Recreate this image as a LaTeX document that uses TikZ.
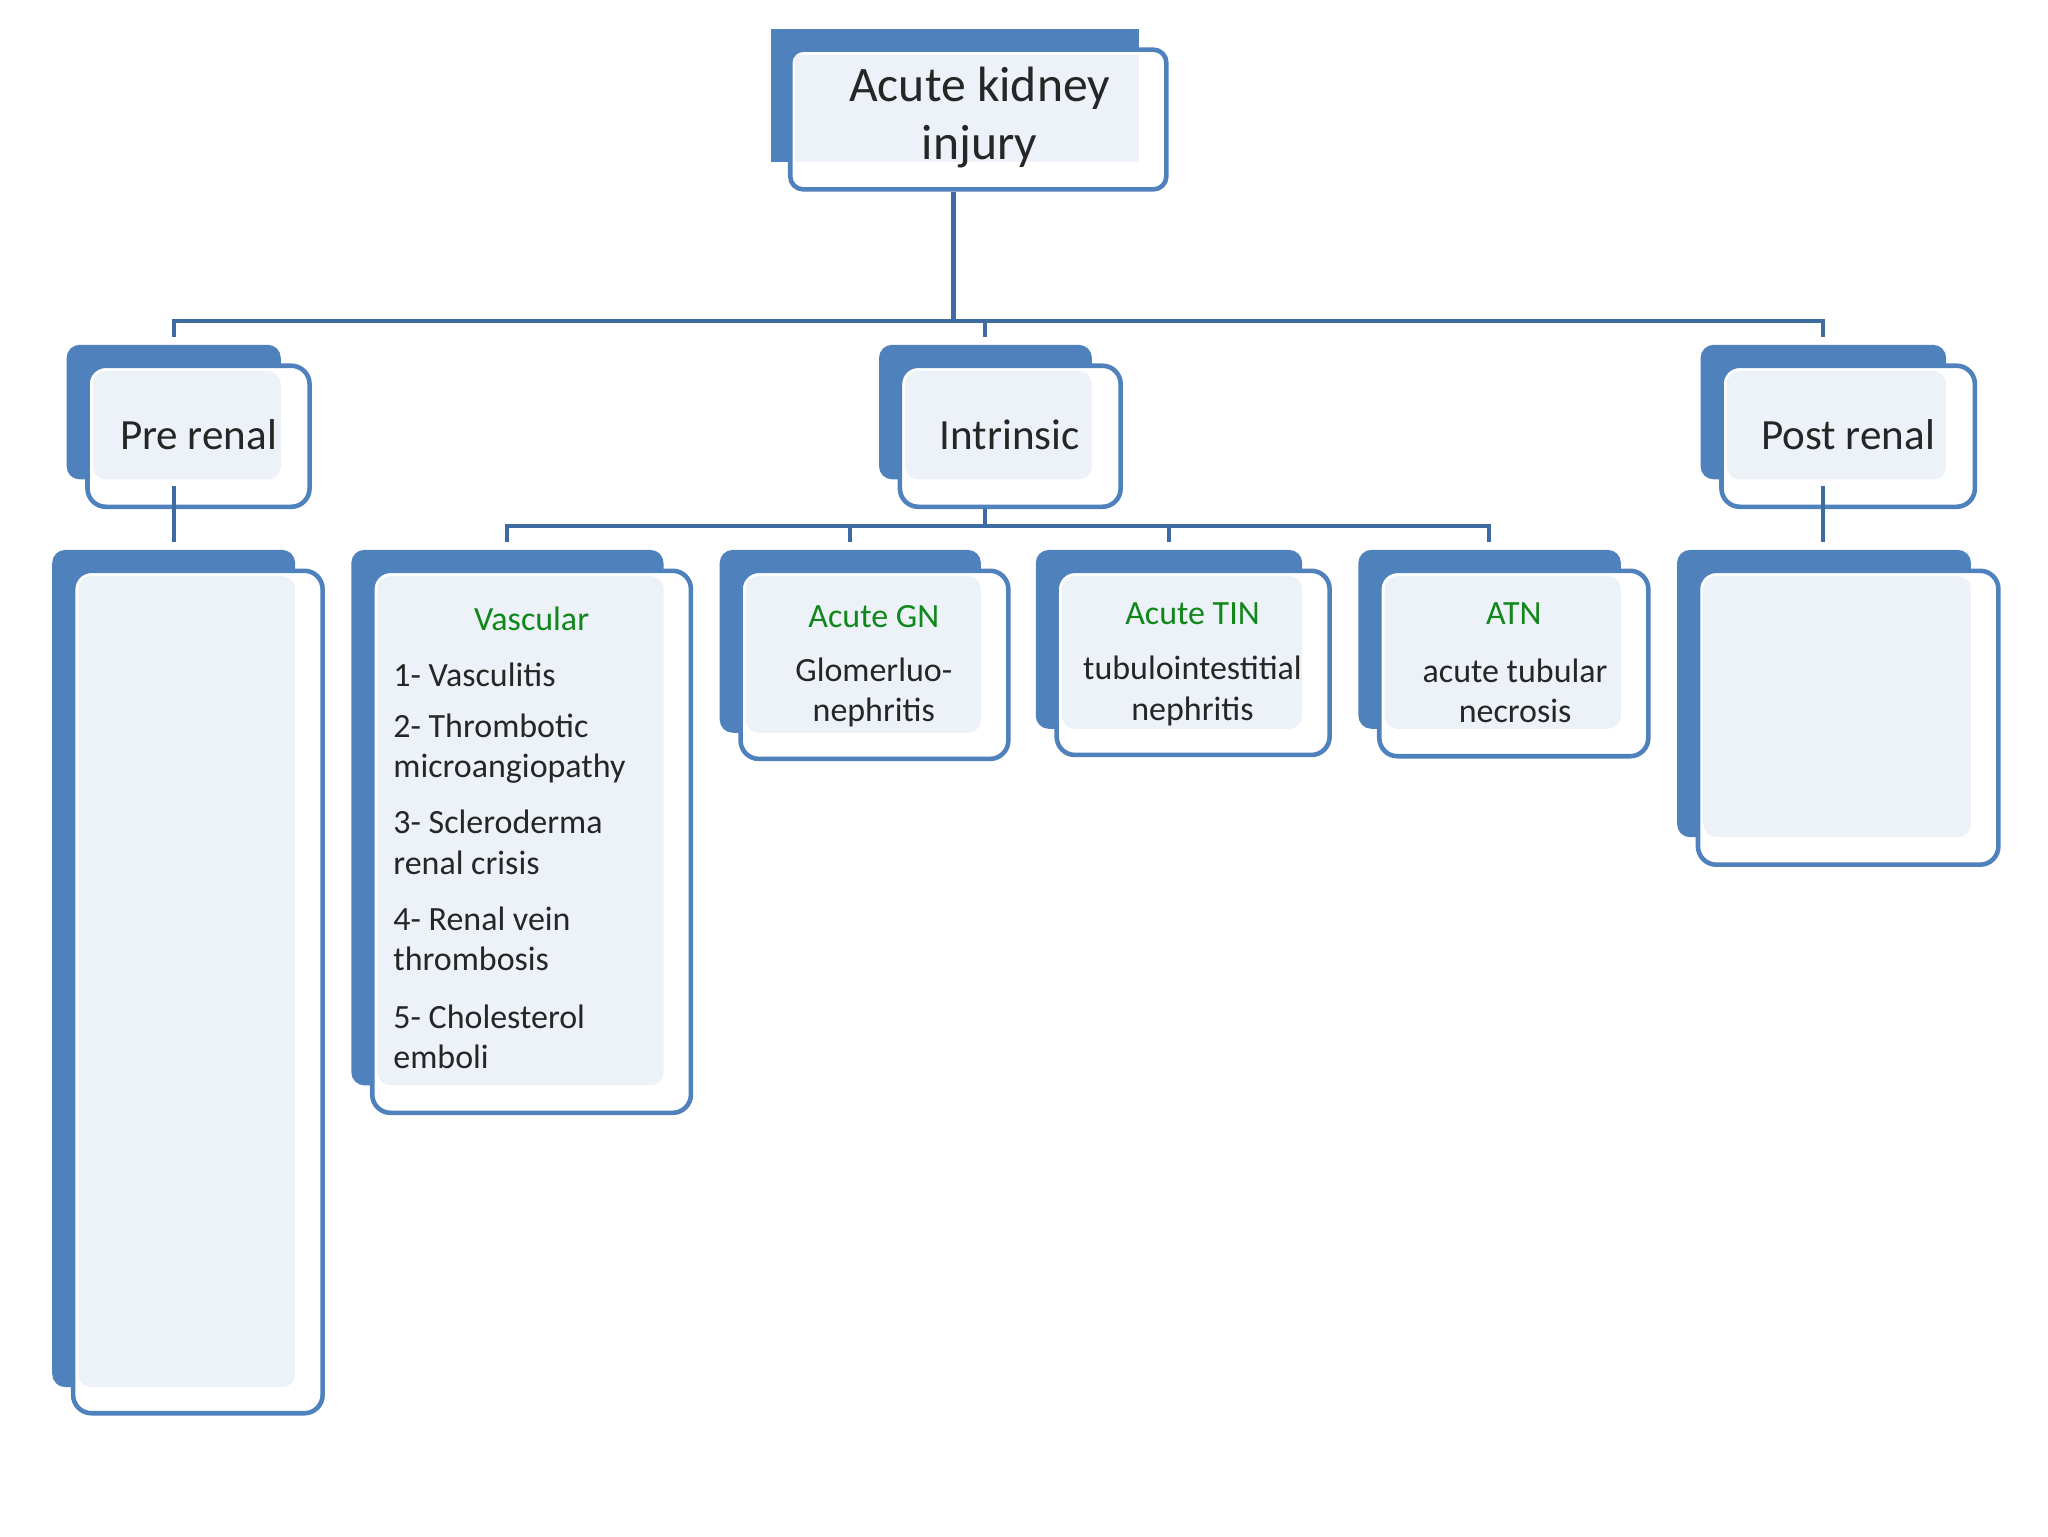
\documentclass[tikz,border=0pt]{standalone}
\usepackage{fontspec}
\setmainfont{Carlito}
\begin{document}
\definecolor{bk}{HTML}{4F81BD}
\definecolor{lt}{HTML}{EDF1F8}
\definecolor{ln}{HTML}{3F6BA3}
\definecolor{gr}{HTML}{10871A}
\begin{tikzpicture}[x=1pt,y=-1pt,
  conn/.style={draw=ln,line width=3.2pt},
  txt/.style={text=black!85,font=\fontsize{26}{31}\selectfont,inner sep=0},
  gtxt/.style={text=gr,font=\fontsize{26}{31}\selectfont,inner sep=0}]
\useasboundingbox (0,0) rectangle (1568,1176);
\fill[white] (0,0) rectangle (1568,1176);
\newcommand\cbox[7]{%
  \fill[bk,rounded corners=10pt] (#2-16,#3-16) rectangle (#6,#7);
  \fill[white,rounded corners=14pt] (#2,#3) rectangle (#4,#5);
  \fill[lt,rounded corners=10pt] (#2+4,#3+4) rectangle (#6,#7);
  \draw[bk,line width=3.5pt,rounded corners=14pt] (#2,#3) rectangle (#4,#5);
  \coordinate (#1) at ({(#2+#4)/2},{(#3+#5)/2});}
% top box (square back)
\fill[bk] (590,22) rectangle (872,124);
\fill[white,rounded corners=10pt] (605,38) rectangle (893,145);
\fill[lt] (609,42) rectangle (872,124);
\draw[bk,line width=3.5pt,rounded corners=10pt] (605,38) rectangle (893,145);
\node[txt,font=\fontsize{38}{44}\selectfont,align=center] (aki) at (750,90) {Acute kidney\\injury};
\cbox{pre}{67}{280}{237}{388}{215}{367}
\cbox{intr}{689}{280}{858}{388}{836}{367}
\cbox{post}{1318}{280}{1512}{388}{1490}{367}
\cbox{preb}{56}{437}{247}{1082}{226}{1062}
\cbox{vasc}{285}{437}{529}{852}{508}{831}
\cbox{gn}{567}{437}{772}{581}{751}{561}
\cbox{tin}{809}{437}{1018}{578}{997}{558}
\cbox{atn}{1056}{437}{1262}{579}{1241}{558}
\cbox{postb}{1300}{437}{1530}{662}{1509}{641}
\node[txt,font=\fontsize{33}{40}\selectfont] (tpre) at (152,333) {Pre renal};
\node[txt,font=\fontsize{33}{40}\selectfont] (tintr) at (773,333) {Intrinsic};
\node[txt,font=\fontsize{33}{40}\selectfont] (tpost) at (1415,333) {Post renal};
\node[gtxt] (tv) at (407,474) {Vascular};
\node[txt,anchor=west] (v1) at (301,517) {1- Vasculitis};
\node[txt,anchor=north west,align=left] (v2) at (301,546) {2- Thrombotic\\microangiopathy};
\node[txt,anchor=north west,align=left] (v3) at (301,620) {3- Scleroderma\\renal crisis};
\node[txt,anchor=north west,align=left] (v4) at (301,694) {4- Renal vein\\thrombosis};
\node[txt,anchor=north west,align=left] (v5) at (301,769) {5- Cholesterol\\emboli};
\node[gtxt] (tgn) at (669,472) {Acute GN};
\node[txt,align=center] (tgn2) at (669,530) {Glomerluo-\\nephritis};
\node[gtxt] (ttin) at (913,470) {Acute TIN};
\node[txt,align=center] (ttin2) at (913,529) {tubulointestitial\\nephritis};
\node[gtxt] (tatn) at (1159,470) {ATN};
\node[txt,align=center] (tatn2) at (1160,529) {acute tubular\\necrosis};
% connectors
\coordinate (h1) at (730,246);
\draw[conn] (730,147) -- (h1);
\draw[conn] (133,258) -- (133,246) -- (1396,246) -- (1396,258);
\draw[conn] (754,246) -- (754,258);
\draw[conn] (754,390) -- (754,403);
\draw[conn] (388,415) -- (388,403) -- (1140,403) -- (1140,415);
\draw[conn] (651,403) -- (651,415);
\draw[conn] (895,403) -- (895,415);
\draw[conn] (133,372) -- (133,415);
\draw[conn] (1396,372) -- (1396,415);
\end{tikzpicture}
\end{document}
